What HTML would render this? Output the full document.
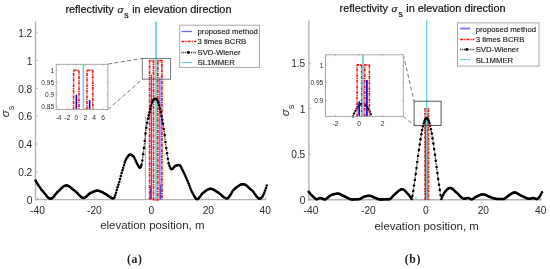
<!DOCTYPE html>
<html><head><meta charset="utf-8"><title>reflectivity</title>
<style>html,body{margin:0;padding:0;background:#fff;width:550px;height:269px;overflow:hidden}svg{display:block}</style>
</head><body>
<svg width="550" height="269" viewBox="0 0 550 269" font-family="&apos;Liberation Sans&apos;, sans-serif">
<rect width="550" height="269" fill="#fff"/>
<line x1="35.5" y1="199.6" x2="37.7" y2="199.6" stroke="#a0a0a0" stroke-width="0.8" />
<line x1="35.5" y1="171.8" x2="37.7" y2="171.8" stroke="#a0a0a0" stroke-width="0.8" />
<line x1="35.5" y1="144" x2="37.7" y2="144" stroke="#a0a0a0" stroke-width="0.8" />
<line x1="35.5" y1="116.2" x2="37.7" y2="116.2" stroke="#a0a0a0" stroke-width="0.8" />
<line x1="35.5" y1="88.4" x2="37.7" y2="88.4" stroke="#a0a0a0" stroke-width="0.8" />
<line x1="35.5" y1="60.6" x2="37.7" y2="60.6" stroke="#a0a0a0" stroke-width="0.8" />
<line x1="35.5" y1="32.8" x2="37.7" y2="32.8" stroke="#a0a0a0" stroke-width="0.8" />
<line x1="37.45" y1="199.6" x2="37.45" y2="197.4" stroke="#a0a0a0" stroke-width="0.8" />
<line x1="94.4" y1="199.6" x2="94.4" y2="197.4" stroke="#a0a0a0" stroke-width="0.8" />
<line x1="151.35" y1="199.6" x2="151.35" y2="197.4" stroke="#a0a0a0" stroke-width="0.8" />
<line x1="208.3" y1="199.6" x2="208.3" y2="197.4" stroke="#a0a0a0" stroke-width="0.8" />
<line x1="265.25" y1="199.6" x2="265.25" y2="197.4" stroke="#a0a0a0" stroke-width="0.8" />
<line x1="35.5" y1="21.5" x2="35.5" y2="200.2" stroke="#b2b2b2" stroke-width="1.4" />
<line x1="34.9" y1="199.6" x2="266.2" y2="199.6" stroke="#b2b2b2" stroke-width="1.4" />
<text x="32.3" y="203.8" font-size="10.2" text-anchor="end" fill="#2b2b2b" >0</text>
<text x="32.3" y="176" font-size="10.2" text-anchor="end" fill="#2b2b2b" >0.2</text>
<text x="32.3" y="148.2" font-size="10.2" text-anchor="end" fill="#2b2b2b" >0.4</text>
<text x="32.3" y="120.4" font-size="10.2" text-anchor="end" fill="#2b2b2b" >0.6</text>
<text x="32.3" y="92.6" font-size="10.2" text-anchor="end" fill="#2b2b2b" >0.8</text>
<text x="32.3" y="64.8" font-size="10.2" text-anchor="end" fill="#2b2b2b" >1</text>
<text x="32.3" y="37" font-size="10.2" text-anchor="end" fill="#2b2b2b" >1.2</text>
<text x="37.45" y="214" font-size="10.2" text-anchor="middle" fill="#2b2b2b" >-40</text>
<text x="94.4" y="214" font-size="10.2" text-anchor="middle" fill="#2b2b2b" >-20</text>
<text x="151.35" y="214" font-size="10.2" text-anchor="middle" fill="#2b2b2b" >0</text>
<text x="208.3" y="214" font-size="10.2" text-anchor="middle" fill="#2b2b2b" >20</text>
<text x="265.25" y="214" font-size="10.2" text-anchor="middle" fill="#2b2b2b" >40</text>
<line x1="155.95" y1="21.5" x2="155.95" y2="199.6" stroke="#66d4d8" stroke-width="1.7" />
<line x1="145.4" y1="116.8" x2="145.4" y2="199.6" stroke="#66d4d8" stroke-width="1.1" />
<line x1="151.35" y1="199.6" x2="151.35" y2="74.5" stroke="#3c3cff" stroke-width="1.1" />
<line x1="159.89" y1="199.6" x2="159.89" y2="77.56" stroke="#3c3cff" stroke-width="1.1" />
<line x1="150.5" y1="199.6" x2="150.5" y2="186.5" stroke="#3c3cff" stroke-width="1.0" />
<line x1="160.7" y1="199.6" x2="160.7" y2="185" stroke="#3c3cff" stroke-width="1.1" />
<polyline points="149.6,199.6 149.6,60.6 153.5,60.6 153.5,200 157.8,200 157.8,60.6 161.9,60.6 161.9,199.6" fill="none" stroke="#ff1010" stroke-width="1.7" stroke-dasharray="3.2 0.7 1.1 0.7" stroke-linejoin="round"/>
<path d="M35.5,180.6 L36.3,181.94 L37.09,183.24 L37.89,184.5 L38.69,185.73 L39.49,186.9 L40.28,188.04 L41.08,189.12 L41.88,190.15 L42.68,191.12 L43.47,192.06 L44.27,193.06 L45.07,194.09 L45.86,195.11 L46.66,196.08 L47.46,196.96 L48.26,197.7 L49.05,198.26 L49.85,198.61 L50.65,198.69 L51.45,198.47 L52.24,197.98 L53.04,197.26 L53.84,196.38 L54.64,195.41 L55.43,194.39 L56.23,193.38 L57.03,192.45 L57.82,191.65 L58.62,190.95 L59.42,190.2 L60.22,189.41 L61.01,188.62 L61.81,187.86 L62.61,187.14 L63.41,186.52 L64.2,186 L65,185.63 L65.8,185.43 L66.59,185.42 L67.39,185.58 L68.19,185.88 L68.99,186.3 L69.78,186.81 L70.58,187.4 L71.38,188.04 L72.18,188.71 L72.97,189.39 L73.77,190.05 L74.57,190.68 L75.36,191.28 L76.16,191.97 L76.96,192.76 L77.76,193.61 L78.55,194.47 L79.35,195.32 L80.15,196.12 L80.95,196.82 L81.74,197.39 L82.54,197.79 L83.34,197.99 L84.14,197.93 L84.93,197.61 L85.73,197.07 L86.53,196.38 L87.32,195.62 L88.12,194.83 L88.92,194.09 L89.72,193.45 L90.51,192.99 L91.31,192.63 L92.11,192.27 L92.91,191.92 L93.7,191.59 L94.5,191.29 L95.3,191.04 L96.09,190.85 L96.89,190.74 L97.69,190.7 L98.49,190.77 L99.28,190.95 L100.08,191.22 L100.88,191.55 L101.68,191.94 L102.47,192.36 L103.27,192.81 L104.07,193.25 L104.87,193.68 L105.66,194.08 L106.46,194.54 L107.26,195.08 L108.05,195.66 L108.85,196.26 L109.65,196.85 L110.45,197.38 L111.24,197.84 L112.04,198.17 L112.84,198.37 L113.64,198.29 L114.43,197.21 L115.23,195.26 L116.03,192.73 L116.82,189.94 L117.62,187.2 L118.42,184.68 L119.22,181.92 L120.01,178.97 L120.81,175.96 L121.61,173.02 L122.41,170.3 L123.2,167.7 L124,165.05 L124.8,162.53 L125.59,160.34 L126.39,158.68 L127.19,157.42 L127.99,156.25 L128.78,155.29 L129.58,154.66 L130.38,154.51 L131.18,154.73 L131.97,155.2 L132.77,155.84 L133.57,156.57 L134.37,157.75 L135.16,159.45 L135.96,161.29 L136.76,162.92 L137.55,164.46 L138.35,166.07 L139.15,167.33 L139.95,167.8 L140.74,166.8 L141.54,164.68 L142.34,160.53 L143.14,154.27 L143.93,147.9 L144.73,140.92 L145.53,133.59 L146.32,127.65 L147.12,122.74 L147.92,118.72 L148.72,115.27 L149.51,112.28 L150.31,109.08 L151.11,105.53 L151.91,102.84 L152.7,100.76 L153.5,99.74 L154.3,99.03 L155.09,98.71 L155.89,98.9 L156.69,99.52 L157.49,100.42 L158.28,102.36 L159.08,105.13 L159.88,108.52 L160.68,112.17 L161.47,115.91 L162.27,119.71 L163.07,123.81 L163.87,129.03 L164.66,135.09 L165.46,141.89 L166.26,147.92 L167.05,153.35 L167.85,158.68 L168.65,163.2 L169.45,165.77 L170.24,167.77 L171.04,169.09 L171.84,169.36 L172.64,168.8 L173.43,167.84 L174.23,166.84 L175.03,166.19 L175.82,165.8 L176.62,165.45 L177.42,165.16 L178.22,164.97 L179.01,164.9 L179.81,165.32 L180.61,166.37 L181.41,167.83 L182.2,169.46 L183,171 L183.8,172.51 L184.6,174.16 L185.39,175.93 L186.19,177.76 L186.99,179.63 L187.78,181.5 L188.58,183.41 L189.38,185.49 L190.18,187.63 L190.97,189.7 L191.77,191.57 L192.57,193.12 L193.37,194.57 L194.16,196.02 L194.96,197.35 L195.76,198.41 L196.55,199.06 L197.35,199.17 L198.15,198.8 L198.95,198.05 L199.74,197.07 L200.54,195.96 L201.34,194.84 L202.14,193.83 L202.93,193.05 L203.73,192.44 L204.53,191.82 L205.32,191.2 L206.12,190.61 L206.92,190.07 L207.72,189.59 L208.51,189.21 L209.31,188.94 L210.11,188.81 L210.91,188.83 L211.7,188.99 L212.5,189.26 L213.3,189.62 L214.1,190.05 L214.89,190.54 L215.69,191.05 L216.49,191.57 L217.28,192.08 L218.08,192.55 L218.88,193.07 L219.68,193.68 L220.47,194.35 L221.27,195.06 L222.07,195.78 L222.87,196.46 L223.66,197.09 L224.46,197.63 L225.26,198.04 L226.05,198.31 L226.85,198.4 L227.65,198.15 L228.45,197.51 L229.24,196.57 L230.04,195.42 L230.84,194.14 L231.64,192.81 L232.43,191.53 L233.23,190.37 L234.03,189.43 L234.82,188.75 L235.62,188.11 L236.42,187.48 L237.22,186.87 L238.01,186.28 L238.81,185.73 L239.61,185.25 L240.41,184.84 L241.2,184.52 L242,184.3 L242.8,184.2 L243.6,184.25 L244.39,184.46 L245.19,184.81 L245.99,185.28 L246.78,185.85 L247.58,186.5 L248.38,187.19 L249.18,187.92 L249.97,188.66 L250.77,189.38 L251.57,190.06 L252.37,190.84 L253.16,191.79 L253.96,192.85 L254.76,193.96 L255.55,195.08 L256.35,196.14 L257.15,197.08 L257.95,197.86 L258.74,198.41 L259.54,198.68 L260.34,198.6 L261.14,198.1 L261.93,197.21 L262.73,195.97 L263.53,194.41 L264.33,192.55 L265.12,190.45 L265.92,188.12 L266.72,185.6" fill="none" stroke="#000" stroke-width="1.2" stroke-dasharray="0.8 0.8"/>
<g fill="#000"><circle cx="35.5" cy="180.6" r="1.25"/><circle cx="36.3" cy="181.94" r="1.25"/><circle cx="37.09" cy="183.24" r="1.25"/><circle cx="37.89" cy="184.5" r="1.25"/><circle cx="38.69" cy="185.73" r="1.25"/><circle cx="39.49" cy="186.9" r="1.25"/><circle cx="40.28" cy="188.04" r="1.25"/><circle cx="41.08" cy="189.12" r="1.25"/><circle cx="41.88" cy="190.15" r="1.25"/><circle cx="42.68" cy="191.12" r="1.25"/><circle cx="43.47" cy="192.06" r="1.25"/><circle cx="44.27" cy="193.06" r="1.25"/><circle cx="45.07" cy="194.09" r="1.25"/><circle cx="45.86" cy="195.11" r="1.25"/><circle cx="46.66" cy="196.08" r="1.25"/><circle cx="47.46" cy="196.96" r="1.25"/><circle cx="48.26" cy="197.7" r="1.25"/><circle cx="49.05" cy="198.26" r="1.25"/><circle cx="49.85" cy="198.61" r="1.25"/><circle cx="50.65" cy="198.69" r="1.25"/><circle cx="51.45" cy="198.47" r="1.25"/><circle cx="52.24" cy="197.98" r="1.25"/><circle cx="53.04" cy="197.26" r="1.25"/><circle cx="53.84" cy="196.38" r="1.25"/><circle cx="54.64" cy="195.41" r="1.25"/><circle cx="55.43" cy="194.39" r="1.25"/><circle cx="56.23" cy="193.38" r="1.25"/><circle cx="57.03" cy="192.45" r="1.25"/><circle cx="57.82" cy="191.65" r="1.25"/><circle cx="58.62" cy="190.95" r="1.25"/><circle cx="59.42" cy="190.2" r="1.25"/><circle cx="60.22" cy="189.41" r="1.25"/><circle cx="61.01" cy="188.62" r="1.25"/><circle cx="61.81" cy="187.86" r="1.25"/><circle cx="62.61" cy="187.14" r="1.25"/><circle cx="63.41" cy="186.52" r="1.25"/><circle cx="64.2" cy="186" r="1.25"/><circle cx="65" cy="185.63" r="1.25"/><circle cx="65.8" cy="185.43" r="1.25"/><circle cx="66.59" cy="185.42" r="1.25"/><circle cx="67.39" cy="185.58" r="1.25"/><circle cx="68.19" cy="185.88" r="1.25"/><circle cx="68.99" cy="186.3" r="1.25"/><circle cx="69.78" cy="186.81" r="1.25"/><circle cx="70.58" cy="187.4" r="1.25"/><circle cx="71.38" cy="188.04" r="1.25"/><circle cx="72.18" cy="188.71" r="1.25"/><circle cx="72.97" cy="189.39" r="1.25"/><circle cx="73.77" cy="190.05" r="1.25"/><circle cx="74.57" cy="190.68" r="1.25"/><circle cx="75.36" cy="191.28" r="1.25"/><circle cx="76.16" cy="191.97" r="1.25"/><circle cx="76.96" cy="192.76" r="1.25"/><circle cx="77.76" cy="193.61" r="1.25"/><circle cx="78.55" cy="194.47" r="1.25"/><circle cx="79.35" cy="195.32" r="1.25"/><circle cx="80.15" cy="196.12" r="1.25"/><circle cx="80.95" cy="196.82" r="1.25"/><circle cx="81.74" cy="197.39" r="1.25"/><circle cx="82.54" cy="197.79" r="1.25"/><circle cx="83.34" cy="197.99" r="1.25"/><circle cx="84.14" cy="197.93" r="1.25"/><circle cx="84.93" cy="197.61" r="1.25"/><circle cx="85.73" cy="197.07" r="1.25"/><circle cx="86.53" cy="196.38" r="1.25"/><circle cx="87.32" cy="195.62" r="1.25"/><circle cx="88.12" cy="194.83" r="1.25"/><circle cx="88.92" cy="194.09" r="1.25"/><circle cx="89.72" cy="193.45" r="1.25"/><circle cx="90.51" cy="192.99" r="1.25"/><circle cx="91.31" cy="192.63" r="1.25"/><circle cx="92.11" cy="192.27" r="1.25"/><circle cx="92.91" cy="191.92" r="1.25"/><circle cx="93.7" cy="191.59" r="1.25"/><circle cx="94.5" cy="191.29" r="1.25"/><circle cx="95.3" cy="191.04" r="1.25"/><circle cx="96.09" cy="190.85" r="1.25"/><circle cx="96.89" cy="190.74" r="1.25"/><circle cx="97.69" cy="190.7" r="1.25"/><circle cx="98.49" cy="190.77" r="1.25"/><circle cx="99.28" cy="190.95" r="1.25"/><circle cx="100.08" cy="191.22" r="1.25"/><circle cx="100.88" cy="191.55" r="1.25"/><circle cx="101.68" cy="191.94" r="1.25"/><circle cx="102.47" cy="192.36" r="1.25"/><circle cx="103.27" cy="192.81" r="1.25"/><circle cx="104.07" cy="193.25" r="1.25"/><circle cx="104.87" cy="193.68" r="1.25"/><circle cx="105.66" cy="194.08" r="1.25"/><circle cx="106.46" cy="194.54" r="1.25"/><circle cx="107.26" cy="195.08" r="1.25"/><circle cx="108.05" cy="195.66" r="1.25"/><circle cx="108.85" cy="196.26" r="1.25"/><circle cx="109.65" cy="196.85" r="1.25"/><circle cx="110.45" cy="197.38" r="1.25"/><circle cx="111.24" cy="197.84" r="1.25"/><circle cx="112.04" cy="198.17" r="1.25"/><circle cx="112.84" cy="198.37" r="1.25"/><circle cx="113.64" cy="198.29" r="1.25"/><circle cx="114.43" cy="197.21" r="1.25"/><circle cx="115.23" cy="195.26" r="1.25"/><circle cx="116.03" cy="192.73" r="1.25"/><circle cx="116.82" cy="189.94" r="1.25"/><circle cx="117.62" cy="187.2" r="1.25"/><circle cx="118.42" cy="184.68" r="1.25"/><circle cx="119.22" cy="181.92" r="1.25"/><circle cx="120.01" cy="178.97" r="1.25"/><circle cx="120.81" cy="175.96" r="1.25"/><circle cx="121.61" cy="173.02" r="1.25"/><circle cx="122.41" cy="170.3" r="1.25"/><circle cx="123.2" cy="167.7" r="1.25"/><circle cx="124" cy="165.05" r="1.25"/><circle cx="124.8" cy="162.53" r="1.25"/><circle cx="125.59" cy="160.34" r="1.25"/><circle cx="126.39" cy="158.68" r="1.25"/><circle cx="127.19" cy="157.42" r="1.25"/><circle cx="127.99" cy="156.25" r="1.25"/><circle cx="128.78" cy="155.29" r="1.25"/><circle cx="129.58" cy="154.66" r="1.25"/><circle cx="130.38" cy="154.51" r="1.25"/><circle cx="131.18" cy="154.73" r="1.25"/><circle cx="131.97" cy="155.2" r="1.25"/><circle cx="132.77" cy="155.84" r="1.25"/><circle cx="133.57" cy="156.57" r="1.25"/><circle cx="134.37" cy="157.75" r="1.25"/><circle cx="135.16" cy="159.45" r="1.25"/><circle cx="135.96" cy="161.29" r="1.25"/><circle cx="136.76" cy="162.92" r="1.25"/><circle cx="137.55" cy="164.46" r="1.25"/><circle cx="138.35" cy="166.07" r="1.25"/><circle cx="139.15" cy="167.33" r="1.25"/><circle cx="139.95" cy="167.8" r="1.25"/><circle cx="140.74" cy="166.8" r="1.25"/><circle cx="141.54" cy="164.68" r="1.25"/><circle cx="142.34" cy="160.53" r="1.25"/><circle cx="143.14" cy="154.27" r="1.25"/><circle cx="143.93" cy="147.9" r="1.25"/><circle cx="144.73" cy="140.92" r="1.25"/><circle cx="145.53" cy="133.59" r="1.25"/><circle cx="146.32" cy="127.65" r="1.25"/><circle cx="147.12" cy="122.74" r="1.25"/><circle cx="147.92" cy="118.72" r="1.25"/><circle cx="148.72" cy="115.27" r="1.25"/><circle cx="149.51" cy="112.28" r="1.25"/><circle cx="150.31" cy="109.08" r="1.25"/><circle cx="151.11" cy="105.53" r="1.25"/><circle cx="151.91" cy="102.84" r="1.25"/><circle cx="152.7" cy="100.76" r="1.25"/><circle cx="153.5" cy="99.74" r="1.25"/><circle cx="154.3" cy="99.03" r="1.25"/><circle cx="155.09" cy="98.71" r="1.25"/><circle cx="155.89" cy="98.9" r="1.25"/><circle cx="156.69" cy="99.52" r="1.25"/><circle cx="157.49" cy="100.42" r="1.25"/><circle cx="158.28" cy="102.36" r="1.25"/><circle cx="159.08" cy="105.13" r="1.25"/><circle cx="159.88" cy="108.52" r="1.25"/><circle cx="160.68" cy="112.17" r="1.25"/><circle cx="161.47" cy="115.91" r="1.25"/><circle cx="162.27" cy="119.71" r="1.25"/><circle cx="163.07" cy="123.81" r="1.25"/><circle cx="163.87" cy="129.03" r="1.25"/><circle cx="164.66" cy="135.09" r="1.25"/><circle cx="165.46" cy="141.89" r="1.25"/><circle cx="166.26" cy="147.92" r="1.25"/><circle cx="167.05" cy="153.35" r="1.25"/><circle cx="167.85" cy="158.68" r="1.25"/><circle cx="168.65" cy="163.2" r="1.25"/><circle cx="169.45" cy="165.77" r="1.25"/><circle cx="170.24" cy="167.77" r="1.25"/><circle cx="171.04" cy="169.09" r="1.25"/><circle cx="171.84" cy="169.36" r="1.25"/><circle cx="172.64" cy="168.8" r="1.25"/><circle cx="173.43" cy="167.84" r="1.25"/><circle cx="174.23" cy="166.84" r="1.25"/><circle cx="175.03" cy="166.19" r="1.25"/><circle cx="175.82" cy="165.8" r="1.25"/><circle cx="176.62" cy="165.45" r="1.25"/><circle cx="177.42" cy="165.16" r="1.25"/><circle cx="178.22" cy="164.97" r="1.25"/><circle cx="179.01" cy="164.9" r="1.25"/><circle cx="179.81" cy="165.32" r="1.25"/><circle cx="180.61" cy="166.37" r="1.25"/><circle cx="181.41" cy="167.83" r="1.25"/><circle cx="182.2" cy="169.46" r="1.25"/><circle cx="183" cy="171" r="1.25"/><circle cx="183.8" cy="172.51" r="1.25"/><circle cx="184.6" cy="174.16" r="1.25"/><circle cx="185.39" cy="175.93" r="1.25"/><circle cx="186.19" cy="177.76" r="1.25"/><circle cx="186.99" cy="179.63" r="1.25"/><circle cx="187.78" cy="181.5" r="1.25"/><circle cx="188.58" cy="183.41" r="1.25"/><circle cx="189.38" cy="185.49" r="1.25"/><circle cx="190.18" cy="187.63" r="1.25"/><circle cx="190.97" cy="189.7" r="1.25"/><circle cx="191.77" cy="191.57" r="1.25"/><circle cx="192.57" cy="193.12" r="1.25"/><circle cx="193.37" cy="194.57" r="1.25"/><circle cx="194.16" cy="196.02" r="1.25"/><circle cx="194.96" cy="197.35" r="1.25"/><circle cx="195.76" cy="198.41" r="1.25"/><circle cx="196.55" cy="199.06" r="1.25"/><circle cx="197.35" cy="199.17" r="1.25"/><circle cx="198.15" cy="198.8" r="1.25"/><circle cx="198.95" cy="198.05" r="1.25"/><circle cx="199.74" cy="197.07" r="1.25"/><circle cx="200.54" cy="195.96" r="1.25"/><circle cx="201.34" cy="194.84" r="1.25"/><circle cx="202.14" cy="193.83" r="1.25"/><circle cx="202.93" cy="193.05" r="1.25"/><circle cx="203.73" cy="192.44" r="1.25"/><circle cx="204.53" cy="191.82" r="1.25"/><circle cx="205.32" cy="191.2" r="1.25"/><circle cx="206.12" cy="190.61" r="1.25"/><circle cx="206.92" cy="190.07" r="1.25"/><circle cx="207.72" cy="189.59" r="1.25"/><circle cx="208.51" cy="189.21" r="1.25"/><circle cx="209.31" cy="188.94" r="1.25"/><circle cx="210.11" cy="188.81" r="1.25"/><circle cx="210.91" cy="188.83" r="1.25"/><circle cx="211.7" cy="188.99" r="1.25"/><circle cx="212.5" cy="189.26" r="1.25"/><circle cx="213.3" cy="189.62" r="1.25"/><circle cx="214.1" cy="190.05" r="1.25"/><circle cx="214.89" cy="190.54" r="1.25"/><circle cx="215.69" cy="191.05" r="1.25"/><circle cx="216.49" cy="191.57" r="1.25"/><circle cx="217.28" cy="192.08" r="1.25"/><circle cx="218.08" cy="192.55" r="1.25"/><circle cx="218.88" cy="193.07" r="1.25"/><circle cx="219.68" cy="193.68" r="1.25"/><circle cx="220.47" cy="194.35" r="1.25"/><circle cx="221.27" cy="195.06" r="1.25"/><circle cx="222.07" cy="195.78" r="1.25"/><circle cx="222.87" cy="196.46" r="1.25"/><circle cx="223.66" cy="197.09" r="1.25"/><circle cx="224.46" cy="197.63" r="1.25"/><circle cx="225.26" cy="198.04" r="1.25"/><circle cx="226.05" cy="198.31" r="1.25"/><circle cx="226.85" cy="198.4" r="1.25"/><circle cx="227.65" cy="198.15" r="1.25"/><circle cx="228.45" cy="197.51" r="1.25"/><circle cx="229.24" cy="196.57" r="1.25"/><circle cx="230.04" cy="195.42" r="1.25"/><circle cx="230.84" cy="194.14" r="1.25"/><circle cx="231.64" cy="192.81" r="1.25"/><circle cx="232.43" cy="191.53" r="1.25"/><circle cx="233.23" cy="190.37" r="1.25"/><circle cx="234.03" cy="189.43" r="1.25"/><circle cx="234.82" cy="188.75" r="1.25"/><circle cx="235.62" cy="188.11" r="1.25"/><circle cx="236.42" cy="187.48" r="1.25"/><circle cx="237.22" cy="186.87" r="1.25"/><circle cx="238.01" cy="186.28" r="1.25"/><circle cx="238.81" cy="185.73" r="1.25"/><circle cx="239.61" cy="185.25" r="1.25"/><circle cx="240.41" cy="184.84" r="1.25"/><circle cx="241.2" cy="184.52" r="1.25"/><circle cx="242" cy="184.3" r="1.25"/><circle cx="242.8" cy="184.2" r="1.25"/><circle cx="243.6" cy="184.25" r="1.25"/><circle cx="244.39" cy="184.46" r="1.25"/><circle cx="245.19" cy="184.81" r="1.25"/><circle cx="245.99" cy="185.28" r="1.25"/><circle cx="246.78" cy="185.85" r="1.25"/><circle cx="247.58" cy="186.5" r="1.25"/><circle cx="248.38" cy="187.19" r="1.25"/><circle cx="249.18" cy="187.92" r="1.25"/><circle cx="249.97" cy="188.66" r="1.25"/><circle cx="250.77" cy="189.38" r="1.25"/><circle cx="251.57" cy="190.06" r="1.25"/><circle cx="252.37" cy="190.84" r="1.25"/><circle cx="253.16" cy="191.79" r="1.25"/><circle cx="253.96" cy="192.85" r="1.25"/><circle cx="254.76" cy="193.96" r="1.25"/><circle cx="255.55" cy="195.08" r="1.25"/><circle cx="256.35" cy="196.14" r="1.25"/><circle cx="257.15" cy="197.08" r="1.25"/><circle cx="257.95" cy="197.86" r="1.25"/><circle cx="258.74" cy="198.41" r="1.25"/><circle cx="259.54" cy="198.68" r="1.25"/><circle cx="260.34" cy="198.6" r="1.25"/><circle cx="261.14" cy="198.1" r="1.25"/><circle cx="261.93" cy="197.21" r="1.25"/><circle cx="262.73" cy="195.97" r="1.25"/><circle cx="263.53" cy="194.41" r="1.25"/><circle cx="264.33" cy="192.55" r="1.25"/><circle cx="265.12" cy="190.45" r="1.25"/><circle cx="265.92" cy="188.12" r="1.25"/><circle cx="266.72" cy="185.6" r="1.25"/></g>
<rect x="142.3" y="58.4" width="28.3" height="20.8" fill="none" stroke="#6a6a6a" stroke-width="0.9"/>
<line x1="107.9" y1="64.1" x2="142.3" y2="58.4" stroke="#666" stroke-width="0.9" stroke-dasharray="4 2.5"/>
<line x1="107.9" y1="109.6" x2="142.3" y2="79.2" stroke="#666" stroke-width="0.9" stroke-dasharray="4 2.5"/>
<rect x="56.2" y="64.3" width="51.7" height="45.3" fill="#fff" stroke="none"/>
<line x1="76.4" y1="109.6" x2="76.4" y2="94.63" stroke="#0000ee" stroke-width="1.6" />
<line x1="89.62" y1="109.6" x2="89.62" y2="100.23" stroke="#0000ee" stroke-width="1.6" />
<polyline points="73.6,109.6 73.6,70.3 79,70.3 79,109.6" fill="none" stroke="#ff1010" stroke-width="1.6" stroke-dasharray="3 0.8 1 0.8" stroke-linejoin="round"/>
<polyline points="87,109.6 87,70.3 92.8,70.3 92.8,109.6" fill="none" stroke="#ff1010" stroke-width="1.6" stroke-dasharray="3 0.8 1 0.8" stroke-linejoin="round"/>
<line x1="83.4" y1="64.3" x2="83.4" y2="109.6" stroke="#66d4d8" stroke-width="1.6" />
<rect x="56.2" y="64.3" width="51.7" height="45.3" fill="none" stroke="#a0a0a0" stroke-width="0.9"/>
<text x="54.2" y="72.6" font-size="6.6" text-anchor="end" fill="#2b2b2b" >1</text>
<line x1="56.2" y1="70.3" x2="57.7" y2="70.3" stroke="#a0a0a0" stroke-width="0.7" />
<line x1="107.9" y1="70.3" x2="106.4" y2="70.3" stroke="#a0a0a0" stroke-width="0.7" />
<text x="54.2" y="84.77" font-size="6.6" text-anchor="end" fill="#2b2b2b" >0.95</text>
<line x1="56.2" y1="82.47" x2="57.7" y2="82.47" stroke="#a0a0a0" stroke-width="0.7" />
<line x1="107.9" y1="82.47" x2="106.4" y2="82.47" stroke="#a0a0a0" stroke-width="0.7" />
<text x="54.2" y="96.93" font-size="6.6" text-anchor="end" fill="#2b2b2b" >0.9</text>
<line x1="56.2" y1="94.63" x2="57.7" y2="94.63" stroke="#a0a0a0" stroke-width="0.7" />
<line x1="107.9" y1="94.63" x2="106.4" y2="94.63" stroke="#a0a0a0" stroke-width="0.7" />
<text x="54.2" y="109.09" font-size="6.6" text-anchor="end" fill="#2b2b2b" >0.85</text>
<line x1="56.2" y1="106.8" x2="57.7" y2="106.8" stroke="#a0a0a0" stroke-width="0.7" />
<line x1="107.9" y1="106.8" x2="106.4" y2="106.8" stroke="#a0a0a0" stroke-width="0.7" />
<text x="58.6" y="119.8" font-size="6.6" text-anchor="middle" fill="#2b2b2b" >-4</text>
<line x1="58.6" y1="109.6" x2="58.6" y2="108.1" stroke="#a0a0a0" stroke-width="0.7" />
<line x1="58.6" y1="64.3" x2="58.6" y2="65.8" stroke="#a0a0a0" stroke-width="0.7" />
<text x="67.5" y="119.8" font-size="6.6" text-anchor="middle" fill="#2b2b2b" >-2</text>
<line x1="67.5" y1="109.6" x2="67.5" y2="108.1" stroke="#a0a0a0" stroke-width="0.7" />
<line x1="67.5" y1="64.3" x2="67.5" y2="65.8" stroke="#a0a0a0" stroke-width="0.7" />
<text x="76.4" y="119.8" font-size="6.6" text-anchor="middle" fill="#2b2b2b" >0</text>
<line x1="76.4" y1="109.6" x2="76.4" y2="108.1" stroke="#a0a0a0" stroke-width="0.7" />
<line x1="76.4" y1="64.3" x2="76.4" y2="65.8" stroke="#a0a0a0" stroke-width="0.7" />
<text x="85.3" y="119.8" font-size="6.6" text-anchor="middle" fill="#2b2b2b" >2</text>
<line x1="85.3" y1="109.6" x2="85.3" y2="108.1" stroke="#a0a0a0" stroke-width="0.7" />
<line x1="85.3" y1="64.3" x2="85.3" y2="65.8" stroke="#a0a0a0" stroke-width="0.7" />
<text x="94.2" y="119.8" font-size="6.6" text-anchor="middle" fill="#2b2b2b" >4</text>
<line x1="94.2" y1="109.6" x2="94.2" y2="108.1" stroke="#a0a0a0" stroke-width="0.7" />
<line x1="94.2" y1="64.3" x2="94.2" y2="65.8" stroke="#a0a0a0" stroke-width="0.7" />
<text x="103.1" y="119.8" font-size="6.6" text-anchor="middle" fill="#2b2b2b" >6</text>
<line x1="103.1" y1="109.6" x2="103.1" y2="108.1" stroke="#a0a0a0" stroke-width="0.7" />
<line x1="103.1" y1="64.3" x2="103.1" y2="65.8" stroke="#a0a0a0" stroke-width="0.7" />
<rect x="179.7" y="25.2" width="79.9" height="42.2" fill="#fff" stroke="#a0a0a0" stroke-width="0.9"/>
<line x1="181.4" y1="31.5" x2="192.2" y2="31.5" stroke="#6b6bff" stroke-width="1.3" />
<line x1="181.4" y1="41.5" x2="196.2" y2="41.5" stroke="#ff1010" stroke-width="1.6" stroke-dasharray="3 1 1.2 1"/>
<line x1="181.4" y1="52.5" x2="196.2" y2="52.5" stroke="#262626" stroke-width="1.3" stroke-dasharray="1 0.9"/>
<circle cx="188.3" cy="52.5" r="1.4" fill="#000"/>
<line x1="181.4" y1="62.5" x2="192.2" y2="62.5" stroke="#66d4d8" stroke-width="1.2" />
<text x="197.5" y="33.8" font-size="7.75" text-anchor="start" fill="#141414" stroke="#141414" stroke-width="0.12">proposed method</text>
<text x="197.5" y="44.3" font-size="7.75" text-anchor="start" fill="#141414" stroke="#141414" stroke-width="0.12">3 times BCRB</text>
<text x="197.5" y="54.6" font-size="7.75" text-anchor="start" fill="#141414" stroke="#141414" stroke-width="0.12">SVD-Wiener</text>
<text x="197.5" y="64.8" font-size="7.75" text-anchor="start" fill="#141414" stroke="#141414" stroke-width="0.12">SL1MMER</text>
<text x="65.4" y="12.8" font-size="10.9" text-anchor="start" fill="#161616" stroke="#161616" stroke-width="0.22">reflectivity</text>
<text x="117.4" y="12.8" font-size="9.8" text-anchor="start" fill="#161616" font-style="italic" stroke="#161616" stroke-width="0.22">σ</text>
<text x="124.3" y="17.5" font-size="8.7" text-anchor="start" fill="#161616" stroke="#161616" stroke-width="0.22">s</text>
<text x="132.2" y="12.8" font-size="10.9" text-anchor="start" fill="#161616" stroke="#161616" stroke-width="0.22">in elevation direction</text>
<text x="100.2" y="229.3" font-size="11.45" text-anchor="start" fill="#2b2b2b" >elevation position, m</text>
<g transform="translate(9.0,117.4) rotate(-90)" fill="#2b2b2b"><text x="0.2" y="0" font-size="11.6" font-style="italic">σ</text><text x="7.4" y="5.2" font-size="8.4">s</text></g>
<text x="126.9" y="262.9" font-size="11.8" font-weight="bold" font-family="&apos;Liberation Serif&apos;, serif" fill="#222" letter-spacing="0.6">(a)</text>
<line x1="308.9" y1="199.8" x2="311.1" y2="199.8" stroke="#a0a0a0" stroke-width="0.8" />
<line x1="308.9" y1="154.2" x2="311.1" y2="154.2" stroke="#a0a0a0" stroke-width="0.8" />
<line x1="308.9" y1="108.6" x2="311.1" y2="108.6" stroke="#a0a0a0" stroke-width="0.8" />
<line x1="308.9" y1="63" x2="311.1" y2="63" stroke="#a0a0a0" stroke-width="0.8" />
<line x1="310.95" y1="199.8" x2="310.95" y2="197.6" stroke="#a0a0a0" stroke-width="0.8" />
<line x1="368.4" y1="199.8" x2="368.4" y2="197.6" stroke="#a0a0a0" stroke-width="0.8" />
<line x1="425.85" y1="199.8" x2="425.85" y2="197.6" stroke="#a0a0a0" stroke-width="0.8" />
<line x1="483.3" y1="199.8" x2="483.3" y2="197.6" stroke="#a0a0a0" stroke-width="0.8" />
<line x1="540.75" y1="199.8" x2="540.75" y2="197.6" stroke="#a0a0a0" stroke-width="0.8" />
<line x1="308.9" y1="20.4" x2="308.9" y2="200.4" stroke="#b2b2b2" stroke-width="1.4" />
<line x1="308.3" y1="199.8" x2="541.8" y2="199.8" stroke="#b2b2b2" stroke-width="1.4" />
<text x="305.3" y="204" font-size="10.2" text-anchor="end" fill="#2b2b2b" >0</text>
<text x="305.3" y="158.4" font-size="10.2" text-anchor="end" fill="#2b2b2b" >0.5</text>
<text x="305.3" y="112.8" font-size="10.2" text-anchor="end" fill="#2b2b2b" >1</text>
<text x="305.3" y="67.2" font-size="10.2" text-anchor="end" fill="#2b2b2b" >1.5</text>
<text x="310.95" y="214" font-size="10.2" text-anchor="middle" fill="#2b2b2b" >-40</text>
<text x="368.4" y="214" font-size="10.2" text-anchor="middle" fill="#2b2b2b" >-20</text>
<text x="425.85" y="214" font-size="10.2" text-anchor="middle" fill="#2b2b2b" >0</text>
<text x="483.3" y="214" font-size="10.2" text-anchor="middle" fill="#2b2b2b" >20</text>
<text x="540.75" y="214" font-size="10.2" text-anchor="middle" fill="#2b2b2b" >40</text>
<line x1="415.9" y1="197" x2="415.9" y2="199.8" stroke="#66d4d8" stroke-width="1.2" />
<line x1="425.6" y1="199.8" x2="425.6" y2="118.63" stroke="#3c3cff" stroke-width="1.0" />
<line x1="427.1" y1="199.8" x2="427.1" y2="112.7" stroke="#3c3cff" stroke-width="1.0" />
<polyline points="424.9,199.8 424.9,108.6 426.5,108.6 426.5,199.8" fill="none" stroke="#ff1010" stroke-width="1.5" stroke-dasharray="2.4 0.7 0.9 0.7" stroke-linejoin="round"/>
<polyline points="427,199.8 427,108.6 428.6,108.6 428.6,199.8" fill="none" stroke="#ff1010" stroke-width="1.5" stroke-dasharray="2.4 0.7 0.9 0.7" stroke-linejoin="round"/>
<line x1="426.7" y1="20.4" x2="426.7" y2="199.8" stroke="#66d4d8" stroke-width="1.4" />
<path d="M308.7,191.8 L309.5,192.83 L310.31,193.79 L311.11,194.69 L311.92,195.52 L312.72,196.26 L313.53,196.96 L314.33,197.69 L315.13,198.37 L315.94,198.9 L316.74,199.18 L317.55,199.1 L318.35,198.72 L319.16,198.26 L319.96,197.94 L320.76,197.95 L321.57,198.21 L322.37,198.61 L323.18,199.02 L323.98,199.32 L324.79,199.39 L325.59,199.17 L326.39,198.72 L327.2,198.11 L328,197.4 L328.81,196.67 L329.61,196.01 L330.42,195.47 L331.22,195.12 L332.02,194.84 L332.83,194.57 L333.63,194.31 L334.44,194.08 L335.24,193.89 L336.05,193.74 L336.85,193.64 L337.65,193.6 L338.46,193.67 L339.26,193.86 L340.07,194.16 L340.87,194.54 L341.68,194.96 L342.48,195.4 L343.28,195.83 L344.09,196.22 L344.89,196.57 L345.7,196.95 L346.5,197.38 L347.31,197.81 L348.11,198.23 L348.92,198.62 L349.72,198.96 L350.52,199.21 L351.33,199.37 L352.13,199.4 L352.94,199.39 L353.74,199.38 L354.55,199.36 L355.35,199.34 L356.15,199.3 L356.96,199.27 L357.76,199.22 L358.57,199.17 L359.37,199.11 L360.18,198.96 L360.98,198.6 L361.78,198.11 L362.59,197.58 L363.39,197.08 L364.2,196.7 L365,196.47 L365.81,196.25 L366.61,196.06 L367.41,195.9 L368.22,195.77 L369.02,195.71 L369.83,195.72 L370.63,195.89 L371.44,196.17 L372.24,196.54 L373.04,196.93 L373.85,197.33 L374.65,197.67 L375.46,197.96 L376.26,198.27 L377.07,198.6 L377.87,198.9 L378.67,199.16 L379.48,199.33 L380.28,199.4 L381.09,199.4 L381.89,199.39 L382.7,199.39 L383.5,199.37 L384.3,199.36 L385.11,199.34 L385.91,199.32 L386.72,199.29 L387.52,199.26 L388.33,199.23 L389.13,199.19 L389.93,198.93 L390.74,198.41 L391.54,197.67 L392.35,196.81 L393.15,195.89 L393.96,194.97 L394.76,194.14 L395.56,193.45 L396.37,192.81 L397.17,192.11 L397.98,191.41 L398.78,190.75 L399.59,190.15 L400.39,189.67 L401.19,189.34 L402,189.2 L402.8,189.32 L403.61,189.71 L404.41,190.32 L405.22,191.07 L406.02,191.92 L406.82,192.79 L407.63,193.63 L408.43,194.53 L409.24,195.54 L410.04,196.65 L410.85,197.84 L411.65,199.1 L412.45,196.03 L413.26,191.02 L414.06,185.62 L414.87,179.93 L415.67,174.03 L416.48,167.99 L417.28,161.92 L418.08,155.9 L418.89,150.04 L419.69,144.43 L420.5,139.16 L421.3,134.33 L422.11,130 L422.91,126.27 L423.71,123.18 L424.52,120.8 L425.32,119.17 L426.13,118.31 L426.93,118.24 L427.74,118.97 L428.54,120.47 L429.35,122.72 L430.15,125.68 L430.95,129.31 L431.76,133.53 L432.56,138.29 L433.37,143.48 L434.17,149.04 L434.98,154.87 L435.78,160.86 L436.58,166.93 L437.39,172.98 L438.19,178.92 L439,184.65 L439.8,190.1 L440.61,195.19 L441.41,198.97 L442.21,196.98 L443.02,195.15 L443.82,193.55 L444.63,192.27 L445.43,191.31 L446.24,190.42 L447.04,189.59 L447.84,188.88 L448.65,188.33 L449.45,187.99 L450.26,187.91 L451.06,188.09 L451.87,188.49 L452.67,189.06 L453.47,189.75 L454.28,190.5 L455.08,191.27 L455.89,192 L456.69,192.65 L457.5,193.36 L458.3,194.16 L459.1,195.02 L459.91,195.88 L460.71,196.7 L461.52,197.45 L462.32,198.07 L463.13,198.53 L463.93,198.77 L464.73,198.77 L465.54,198.56 L466.34,198.28 L467.15,198.02 L467.95,197.9 L468.76,198.06 L469.56,198.44 L470.36,198.88 L471.17,199.17 L471.97,199.15 L472.78,198.9 L473.58,198.47 L474.39,197.93 L475.19,197.37 L475.99,196.83 L476.8,196.39 L477.6,196.05 L478.41,195.69 L479.21,195.34 L480.02,195.01 L480.82,194.73 L481.62,194.53 L482.43,194.41 L483.23,194.42 L484.04,194.56 L484.84,194.8 L485.65,195.12 L486.45,195.49 L487.25,195.87 L488.06,196.25 L488.86,196.58 L489.67,196.85 L490.47,197.11 L491.28,197.38 L492.08,197.66 L492.88,197.93 L493.69,198.19 L494.49,198.43 L495.3,198.64 L496.1,198.81 L496.91,198.93 L497.71,198.99 L498.51,199 L499.32,199 L500.12,199 L500.93,199 L501.73,199 L502.54,199 L503.34,199 L504.14,198.88 L504.95,198.46 L505.75,197.83 L506.56,197.13 L507.36,196.45 L508.17,195.9 L508.97,195.37 L509.78,194.8 L510.58,194.22 L511.38,193.68 L512.19,193.2 L512.99,192.82 L513.8,192.57 L514.6,192.5 L515.41,192.61 L516.21,192.86 L517.01,193.23 L517.82,193.68 L518.62,194.17 L519.43,194.68 L520.23,195.16 L521.04,195.59 L521.84,195.94 L522.64,196.31 L523.45,196.7 L524.25,197.09 L525.06,197.48 L525.86,197.84 L526.67,198.16 L527.47,198.44 L528.27,198.64 L529.08,198.77 L529.88,198.79 L530.69,198.63 L531.49,198.35 L532.3,198.09 L533.1,198 L533.9,198.17 L534.71,198.48 L535.51,198.81 L536.32,198.99 L537.12,198.9 L537.93,198.47 L538.73,197.74 L539.53,196.74 L540.34,195.48 L541.14,193.99 L541.95,192.3" fill="none" stroke="#000" stroke-width="1.2" stroke-dasharray="0.8 0.8"/>
<g fill="#000"><circle cx="308.7" cy="191.8" r="1.25"/><circle cx="309.5" cy="192.83" r="1.25"/><circle cx="310.31" cy="193.79" r="1.25"/><circle cx="311.11" cy="194.69" r="1.25"/><circle cx="311.92" cy="195.52" r="1.25"/><circle cx="312.72" cy="196.26" r="1.25"/><circle cx="313.53" cy="196.96" r="1.25"/><circle cx="314.33" cy="197.69" r="1.25"/><circle cx="315.13" cy="198.37" r="1.25"/><circle cx="315.94" cy="198.9" r="1.25"/><circle cx="316.74" cy="199.18" r="1.25"/><circle cx="317.55" cy="199.1" r="1.25"/><circle cx="318.35" cy="198.72" r="1.25"/><circle cx="319.16" cy="198.26" r="1.25"/><circle cx="319.96" cy="197.94" r="1.25"/><circle cx="320.76" cy="197.95" r="1.25"/><circle cx="321.57" cy="198.21" r="1.25"/><circle cx="322.37" cy="198.61" r="1.25"/><circle cx="323.18" cy="199.02" r="1.25"/><circle cx="323.98" cy="199.32" r="1.25"/><circle cx="324.79" cy="199.39" r="1.25"/><circle cx="325.59" cy="199.17" r="1.25"/><circle cx="326.39" cy="198.72" r="1.25"/><circle cx="327.2" cy="198.11" r="1.25"/><circle cx="328" cy="197.4" r="1.25"/><circle cx="328.81" cy="196.67" r="1.25"/><circle cx="329.61" cy="196.01" r="1.25"/><circle cx="330.42" cy="195.47" r="1.25"/><circle cx="331.22" cy="195.12" r="1.25"/><circle cx="332.02" cy="194.84" r="1.25"/><circle cx="332.83" cy="194.57" r="1.25"/><circle cx="333.63" cy="194.31" r="1.25"/><circle cx="334.44" cy="194.08" r="1.25"/><circle cx="335.24" cy="193.89" r="1.25"/><circle cx="336.05" cy="193.74" r="1.25"/><circle cx="336.85" cy="193.64" r="1.25"/><circle cx="337.65" cy="193.6" r="1.25"/><circle cx="338.46" cy="193.67" r="1.25"/><circle cx="339.26" cy="193.86" r="1.25"/><circle cx="340.07" cy="194.16" r="1.25"/><circle cx="340.87" cy="194.54" r="1.25"/><circle cx="341.68" cy="194.96" r="1.25"/><circle cx="342.48" cy="195.4" r="1.25"/><circle cx="343.28" cy="195.83" r="1.25"/><circle cx="344.09" cy="196.22" r="1.25"/><circle cx="344.89" cy="196.57" r="1.25"/><circle cx="345.7" cy="196.95" r="1.25"/><circle cx="346.5" cy="197.38" r="1.25"/><circle cx="347.31" cy="197.81" r="1.25"/><circle cx="348.11" cy="198.23" r="1.25"/><circle cx="348.92" cy="198.62" r="1.25"/><circle cx="349.72" cy="198.96" r="1.25"/><circle cx="350.52" cy="199.21" r="1.25"/><circle cx="351.33" cy="199.37" r="1.25"/><circle cx="352.13" cy="199.4" r="1.25"/><circle cx="352.94" cy="199.39" r="1.25"/><circle cx="353.74" cy="199.38" r="1.25"/><circle cx="354.55" cy="199.36" r="1.25"/><circle cx="355.35" cy="199.34" r="1.25"/><circle cx="356.15" cy="199.3" r="1.25"/><circle cx="356.96" cy="199.27" r="1.25"/><circle cx="357.76" cy="199.22" r="1.25"/><circle cx="358.57" cy="199.17" r="1.25"/><circle cx="359.37" cy="199.11" r="1.25"/><circle cx="360.18" cy="198.96" r="1.25"/><circle cx="360.98" cy="198.6" r="1.25"/><circle cx="361.78" cy="198.11" r="1.25"/><circle cx="362.59" cy="197.58" r="1.25"/><circle cx="363.39" cy="197.08" r="1.25"/><circle cx="364.2" cy="196.7" r="1.25"/><circle cx="365" cy="196.47" r="1.25"/><circle cx="365.81" cy="196.25" r="1.25"/><circle cx="366.61" cy="196.06" r="1.25"/><circle cx="367.41" cy="195.9" r="1.25"/><circle cx="368.22" cy="195.77" r="1.25"/><circle cx="369.02" cy="195.71" r="1.25"/><circle cx="369.83" cy="195.72" r="1.25"/><circle cx="370.63" cy="195.89" r="1.25"/><circle cx="371.44" cy="196.17" r="1.25"/><circle cx="372.24" cy="196.54" r="1.25"/><circle cx="373.04" cy="196.93" r="1.25"/><circle cx="373.85" cy="197.33" r="1.25"/><circle cx="374.65" cy="197.67" r="1.25"/><circle cx="375.46" cy="197.96" r="1.25"/><circle cx="376.26" cy="198.27" r="1.25"/><circle cx="377.07" cy="198.6" r="1.25"/><circle cx="377.87" cy="198.9" r="1.25"/><circle cx="378.67" cy="199.16" r="1.25"/><circle cx="379.48" cy="199.33" r="1.25"/><circle cx="380.28" cy="199.4" r="1.25"/><circle cx="381.09" cy="199.4" r="1.25"/><circle cx="381.89" cy="199.39" r="1.25"/><circle cx="382.7" cy="199.39" r="1.25"/><circle cx="383.5" cy="199.37" r="1.25"/><circle cx="384.3" cy="199.36" r="1.25"/><circle cx="385.11" cy="199.34" r="1.25"/><circle cx="385.91" cy="199.32" r="1.25"/><circle cx="386.72" cy="199.29" r="1.25"/><circle cx="387.52" cy="199.26" r="1.25"/><circle cx="388.33" cy="199.23" r="1.25"/><circle cx="389.13" cy="199.19" r="1.25"/><circle cx="389.93" cy="198.93" r="1.25"/><circle cx="390.74" cy="198.41" r="1.25"/><circle cx="391.54" cy="197.67" r="1.25"/><circle cx="392.35" cy="196.81" r="1.25"/><circle cx="393.15" cy="195.89" r="1.25"/><circle cx="393.96" cy="194.97" r="1.25"/><circle cx="394.76" cy="194.14" r="1.25"/><circle cx="395.56" cy="193.45" r="1.25"/><circle cx="396.37" cy="192.81" r="1.25"/><circle cx="397.17" cy="192.11" r="1.25"/><circle cx="397.98" cy="191.41" r="1.25"/><circle cx="398.78" cy="190.75" r="1.25"/><circle cx="399.59" cy="190.15" r="1.25"/><circle cx="400.39" cy="189.67" r="1.25"/><circle cx="401.19" cy="189.34" r="1.25"/><circle cx="402" cy="189.2" r="1.25"/><circle cx="402.8" cy="189.32" r="1.25"/><circle cx="403.61" cy="189.71" r="1.25"/><circle cx="404.41" cy="190.32" r="1.25"/><circle cx="405.22" cy="191.07" r="1.25"/><circle cx="406.02" cy="191.92" r="1.25"/><circle cx="406.82" cy="192.79" r="1.25"/><circle cx="407.63" cy="193.63" r="1.25"/><circle cx="408.43" cy="194.53" r="1.25"/><circle cx="409.24" cy="195.54" r="1.25"/><circle cx="410.04" cy="196.65" r="1.25"/><circle cx="410.85" cy="197.84" r="1.25"/><circle cx="411.65" cy="199.1" r="1.25"/><circle cx="412.45" cy="196.03" r="1.25"/><circle cx="413.26" cy="191.02" r="1.25"/><circle cx="414.06" cy="185.62" r="1.25"/><circle cx="414.87" cy="179.93" r="1.25"/><circle cx="415.67" cy="174.03" r="1.25"/><circle cx="416.48" cy="167.99" r="1.25"/><circle cx="417.28" cy="161.92" r="1.25"/><circle cx="418.08" cy="155.9" r="1.25"/><circle cx="418.89" cy="150.04" r="1.25"/><circle cx="419.69" cy="144.43" r="1.25"/><circle cx="420.5" cy="139.16" r="1.25"/><circle cx="421.3" cy="134.33" r="1.25"/><circle cx="422.11" cy="130" r="1.25"/><circle cx="422.91" cy="126.27" r="1.25"/><circle cx="423.71" cy="123.18" r="1.25"/><circle cx="424.52" cy="120.8" r="1.25"/><circle cx="425.32" cy="119.17" r="1.25"/><circle cx="426.13" cy="118.31" r="1.25"/><circle cx="426.93" cy="118.24" r="1.25"/><circle cx="427.74" cy="118.97" r="1.25"/><circle cx="428.54" cy="120.47" r="1.25"/><circle cx="429.35" cy="122.72" r="1.25"/><circle cx="430.15" cy="125.68" r="1.25"/><circle cx="430.95" cy="129.31" r="1.25"/><circle cx="431.76" cy="133.53" r="1.25"/><circle cx="432.56" cy="138.29" r="1.25"/><circle cx="433.37" cy="143.48" r="1.25"/><circle cx="434.17" cy="149.04" r="1.25"/><circle cx="434.98" cy="154.87" r="1.25"/><circle cx="435.78" cy="160.86" r="1.25"/><circle cx="436.58" cy="166.93" r="1.25"/><circle cx="437.39" cy="172.98" r="1.25"/><circle cx="438.19" cy="178.92" r="1.25"/><circle cx="439" cy="184.65" r="1.25"/><circle cx="439.8" cy="190.1" r="1.25"/><circle cx="440.61" cy="195.19" r="1.25"/><circle cx="441.41" cy="198.97" r="1.25"/><circle cx="442.21" cy="196.98" r="1.25"/><circle cx="443.02" cy="195.15" r="1.25"/><circle cx="443.82" cy="193.55" r="1.25"/><circle cx="444.63" cy="192.27" r="1.25"/><circle cx="445.43" cy="191.31" r="1.25"/><circle cx="446.24" cy="190.42" r="1.25"/><circle cx="447.04" cy="189.59" r="1.25"/><circle cx="447.84" cy="188.88" r="1.25"/><circle cx="448.65" cy="188.33" r="1.25"/><circle cx="449.45" cy="187.99" r="1.25"/><circle cx="450.26" cy="187.91" r="1.25"/><circle cx="451.06" cy="188.09" r="1.25"/><circle cx="451.87" cy="188.49" r="1.25"/><circle cx="452.67" cy="189.06" r="1.25"/><circle cx="453.47" cy="189.75" r="1.25"/><circle cx="454.28" cy="190.5" r="1.25"/><circle cx="455.08" cy="191.27" r="1.25"/><circle cx="455.89" cy="192" r="1.25"/><circle cx="456.69" cy="192.65" r="1.25"/><circle cx="457.5" cy="193.36" r="1.25"/><circle cx="458.3" cy="194.16" r="1.25"/><circle cx="459.1" cy="195.02" r="1.25"/><circle cx="459.91" cy="195.88" r="1.25"/><circle cx="460.71" cy="196.7" r="1.25"/><circle cx="461.52" cy="197.45" r="1.25"/><circle cx="462.32" cy="198.07" r="1.25"/><circle cx="463.13" cy="198.53" r="1.25"/><circle cx="463.93" cy="198.77" r="1.25"/><circle cx="464.73" cy="198.77" r="1.25"/><circle cx="465.54" cy="198.56" r="1.25"/><circle cx="466.34" cy="198.28" r="1.25"/><circle cx="467.15" cy="198.02" r="1.25"/><circle cx="467.95" cy="197.9" r="1.25"/><circle cx="468.76" cy="198.06" r="1.25"/><circle cx="469.56" cy="198.44" r="1.25"/><circle cx="470.36" cy="198.88" r="1.25"/><circle cx="471.17" cy="199.17" r="1.25"/><circle cx="471.97" cy="199.15" r="1.25"/><circle cx="472.78" cy="198.9" r="1.25"/><circle cx="473.58" cy="198.47" r="1.25"/><circle cx="474.39" cy="197.93" r="1.25"/><circle cx="475.19" cy="197.37" r="1.25"/><circle cx="475.99" cy="196.83" r="1.25"/><circle cx="476.8" cy="196.39" r="1.25"/><circle cx="477.6" cy="196.05" r="1.25"/><circle cx="478.41" cy="195.69" r="1.25"/><circle cx="479.21" cy="195.34" r="1.25"/><circle cx="480.02" cy="195.01" r="1.25"/><circle cx="480.82" cy="194.73" r="1.25"/><circle cx="481.62" cy="194.53" r="1.25"/><circle cx="482.43" cy="194.41" r="1.25"/><circle cx="483.23" cy="194.42" r="1.25"/><circle cx="484.04" cy="194.56" r="1.25"/><circle cx="484.84" cy="194.8" r="1.25"/><circle cx="485.65" cy="195.12" r="1.25"/><circle cx="486.45" cy="195.49" r="1.25"/><circle cx="487.25" cy="195.87" r="1.25"/><circle cx="488.06" cy="196.25" r="1.25"/><circle cx="488.86" cy="196.58" r="1.25"/><circle cx="489.67" cy="196.85" r="1.25"/><circle cx="490.47" cy="197.11" r="1.25"/><circle cx="491.28" cy="197.38" r="1.25"/><circle cx="492.08" cy="197.66" r="1.25"/><circle cx="492.88" cy="197.93" r="1.25"/><circle cx="493.69" cy="198.19" r="1.25"/><circle cx="494.49" cy="198.43" r="1.25"/><circle cx="495.3" cy="198.64" r="1.25"/><circle cx="496.1" cy="198.81" r="1.25"/><circle cx="496.91" cy="198.93" r="1.25"/><circle cx="497.71" cy="198.99" r="1.25"/><circle cx="498.51" cy="199" r="1.25"/><circle cx="499.32" cy="199" r="1.25"/><circle cx="500.12" cy="199" r="1.25"/><circle cx="500.93" cy="199" r="1.25"/><circle cx="501.73" cy="199" r="1.25"/><circle cx="502.54" cy="199" r="1.25"/><circle cx="503.34" cy="199" r="1.25"/><circle cx="504.14" cy="198.88" r="1.25"/><circle cx="504.95" cy="198.46" r="1.25"/><circle cx="505.75" cy="197.83" r="1.25"/><circle cx="506.56" cy="197.13" r="1.25"/><circle cx="507.36" cy="196.45" r="1.25"/><circle cx="508.17" cy="195.9" r="1.25"/><circle cx="508.97" cy="195.37" r="1.25"/><circle cx="509.78" cy="194.8" r="1.25"/><circle cx="510.58" cy="194.22" r="1.25"/><circle cx="511.38" cy="193.68" r="1.25"/><circle cx="512.19" cy="193.2" r="1.25"/><circle cx="512.99" cy="192.82" r="1.25"/><circle cx="513.8" cy="192.57" r="1.25"/><circle cx="514.6" cy="192.5" r="1.25"/><circle cx="515.41" cy="192.61" r="1.25"/><circle cx="516.21" cy="192.86" r="1.25"/><circle cx="517.01" cy="193.23" r="1.25"/><circle cx="517.82" cy="193.68" r="1.25"/><circle cx="518.62" cy="194.17" r="1.25"/><circle cx="519.43" cy="194.68" r="1.25"/><circle cx="520.23" cy="195.16" r="1.25"/><circle cx="521.04" cy="195.59" r="1.25"/><circle cx="521.84" cy="195.94" r="1.25"/><circle cx="522.64" cy="196.31" r="1.25"/><circle cx="523.45" cy="196.7" r="1.25"/><circle cx="524.25" cy="197.09" r="1.25"/><circle cx="525.06" cy="197.48" r="1.25"/><circle cx="525.86" cy="197.84" r="1.25"/><circle cx="526.67" cy="198.16" r="1.25"/><circle cx="527.47" cy="198.44" r="1.25"/><circle cx="528.27" cy="198.64" r="1.25"/><circle cx="529.08" cy="198.77" r="1.25"/><circle cx="529.88" cy="198.79" r="1.25"/><circle cx="530.69" cy="198.63" r="1.25"/><circle cx="531.49" cy="198.35" r="1.25"/><circle cx="532.3" cy="198.09" r="1.25"/><circle cx="533.1" cy="198" r="1.25"/><circle cx="533.9" cy="198.17" r="1.25"/><circle cx="534.71" cy="198.48" r="1.25"/><circle cx="535.51" cy="198.81" r="1.25"/><circle cx="536.32" cy="198.99" r="1.25"/><circle cx="537.12" cy="198.9" r="1.25"/><circle cx="537.93" cy="198.47" r="1.25"/><circle cx="538.73" cy="197.74" r="1.25"/><circle cx="539.53" cy="196.74" r="1.25"/><circle cx="540.34" cy="195.48" r="1.25"/><circle cx="541.14" cy="193.99" r="1.25"/><circle cx="541.95" cy="192.3" r="1.25"/></g>
<rect x="414.1" y="101.2" width="27" height="24.2" fill="none" stroke="#444" stroke-width="0.9"/>
<line x1="403.3" y1="54.8" x2="414.1" y2="101.2" stroke="#666" stroke-width="0.9" stroke-dasharray="4 2.5"/>
<line x1="403.3" y1="116.4" x2="414.1" y2="125.4" stroke="#666" stroke-width="0.9" stroke-dasharray="4 2.5"/>
<rect x="325.5" y="54.8" width="77.8" height="61.6" fill="#fff" stroke="none"/>
<path d="M353,116.39 L354.2,113.41 L355.4,110.81 L356.6,108.62 L357.8,106.83 L359,105.45 L360.2,104.48 L361.4,103.93 L362.6,103.79 L363.8,104.07 L365,104.76 L366.2,105.87 L367.4,107.38 L368.6,109.31 L369.8,111.63 L371,114.36" fill="none" stroke="#000" stroke-width="0.9" stroke-dasharray="0.8 0.8"/>
<g fill="#000"><circle cx="353" cy="116.39" r="1.15"/><circle cx="354.2" cy="113.41" r="1.15"/><circle cx="355.4" cy="110.81" r="1.15"/><circle cx="356.6" cy="108.62" r="1.15"/><circle cx="357.8" cy="106.83" r="1.15"/><circle cx="359" cy="105.45" r="1.15"/><circle cx="360.2" cy="104.48" r="1.15"/><circle cx="361.4" cy="103.93" r="1.15"/><circle cx="362.6" cy="103.79" r="1.15"/><circle cx="363.8" cy="104.07" r="1.15"/><circle cx="365" cy="104.76" r="1.15"/><circle cx="366.2" cy="105.87" r="1.15"/><circle cx="367.4" cy="107.38" r="1.15"/><circle cx="368.6" cy="109.31" r="1.15"/><circle cx="369.8" cy="111.63" r="1.15"/><circle cx="371" cy="114.36" r="1.15"/></g>
<line x1="359.2" y1="116.4" x2="359.2" y2="101.3" stroke="#0000ee" stroke-width="1.7" />
<line x1="366.9" y1="116.4" x2="366.9" y2="79.9" stroke="#0000ee" stroke-width="1.7" />
<polyline points="357.1,116.4 357.1,64.9 361.7,64.9 361.7,116.4" fill="none" stroke="#ff1010" stroke-width="1.6" stroke-dasharray="3 0.8 1 0.8" stroke-linejoin="round"/>
<polyline points="364.8,116.4 364.8,64.9 369.4,64.9 369.4,116.4" fill="none" stroke="#ff1010" stroke-width="1.6" stroke-dasharray="3 0.8 1 0.8" stroke-linejoin="round"/>
<line x1="363.1" y1="54.8" x2="363.1" y2="116.4" stroke="#66d4d8" stroke-width="1.8" />
<rect x="325.5" y="54.8" width="77.8" height="61.6" fill="none" stroke="#a0a0a0" stroke-width="0.9"/>
<text x="323.3" y="67.5" font-size="6.6" text-anchor="end" fill="#2b2b2b" >1</text>
<line x1="325.5" y1="65.2" x2="327" y2="65.2" stroke="#a0a0a0" stroke-width="0.7" />
<line x1="403.3" y1="65.2" x2="401.8" y2="65.2" stroke="#a0a0a0" stroke-width="0.7" />
<text x="323.3" y="85.2" font-size="6.6" text-anchor="end" fill="#2b2b2b" >0.95</text>
<line x1="325.5" y1="82.9" x2="327" y2="82.9" stroke="#a0a0a0" stroke-width="0.7" />
<line x1="403.3" y1="82.9" x2="401.8" y2="82.9" stroke="#a0a0a0" stroke-width="0.7" />
<text x="323.3" y="102.9" font-size="6.6" text-anchor="end" fill="#2b2b2b" >0.9</text>
<line x1="325.5" y1="100.6" x2="327" y2="100.6" stroke="#a0a0a0" stroke-width="0.7" />
<line x1="403.3" y1="100.6" x2="401.8" y2="100.6" stroke="#a0a0a0" stroke-width="0.7" />
<text x="335.5" y="126" font-size="6.6" text-anchor="middle" fill="#2b2b2b" >-2</text>
<line x1="335.5" y1="116.4" x2="335.5" y2="114.9" stroke="#a0a0a0" stroke-width="0.7" />
<line x1="335.5" y1="54.8" x2="335.5" y2="56.3" stroke="#a0a0a0" stroke-width="0.7" />
<text x="359.1" y="126" font-size="6.6" text-anchor="middle" fill="#2b2b2b" >0</text>
<line x1="359.1" y1="116.4" x2="359.1" y2="114.9" stroke="#a0a0a0" stroke-width="0.7" />
<line x1="359.1" y1="54.8" x2="359.1" y2="56.3" stroke="#a0a0a0" stroke-width="0.7" />
<text x="382.7" y="126" font-size="6.6" text-anchor="middle" fill="#2b2b2b" >2</text>
<line x1="382.7" y1="116.4" x2="382.7" y2="114.9" stroke="#a0a0a0" stroke-width="0.7" />
<line x1="382.7" y1="54.8" x2="382.7" y2="56.3" stroke="#a0a0a0" stroke-width="0.7" />
<rect x="457.5" y="22.9" width="81.5" height="43.2" fill="#fff" stroke="#a0a0a0" stroke-width="0.9"/>
<line x1="460.2" y1="28.5" x2="470.3" y2="28.5" stroke="#7878ff" stroke-width="1.9" />
<line x1="460.2" y1="39.5" x2="474.3" y2="39.5" stroke="#ff1010" stroke-width="1.6" stroke-dasharray="3 1 1.2 1"/>
<line x1="460.2" y1="49.5" x2="474.3" y2="49.5" stroke="#262626" stroke-width="1.3" stroke-dasharray="1 0.9"/>
<circle cx="466.75" cy="49.5" r="1.4" fill="#000"/>
<line x1="460.2" y1="59.5" x2="470.3" y2="59.5" stroke="#66d4d8" stroke-width="1.2" />
<text x="475.7" y="31.6" font-size="7.75" text-anchor="start" fill="#141414" stroke="#141414" stroke-width="0.12">proposed method</text>
<text x="475.7" y="42.2" font-size="7.75" text-anchor="start" fill="#141414" stroke="#141414" stroke-width="0.12">3 times BCRB</text>
<text x="475.7" y="52.4" font-size="7.75" text-anchor="start" fill="#141414" stroke="#141414" stroke-width="0.12">SVD-Wiener</text>
<text x="475.7" y="62.6" font-size="7.75" text-anchor="start" fill="#141414" stroke="#141414" stroke-width="0.12">SL1MMER</text>
<text x="339.5" y="12" font-size="10.9" text-anchor="start" fill="#161616" stroke="#161616" stroke-width="0.22">reflectivity</text>
<text x="391.5" y="12" font-size="9.8" text-anchor="start" fill="#161616" font-style="italic" stroke="#161616" stroke-width="0.22">σ</text>
<text x="398.4" y="16.7" font-size="8.7" text-anchor="start" fill="#161616" stroke="#161616" stroke-width="0.22">s</text>
<text x="406.3" y="12" font-size="10.9" text-anchor="start" fill="#161616" stroke="#161616" stroke-width="0.22">in elevation direction</text>
<text x="374.5" y="229.5" font-size="11.45" text-anchor="start" fill="#2b2b2b" >elevation position, m</text>
<g transform="translate(289.0,116.4) rotate(-90)" fill="#2b2b2b"><text x="0.2" y="0" font-size="11.6" font-style="italic">σ</text><text x="7.4" y="5.2" font-size="8.4">s</text></g>
<text x="404.7" y="262.9" font-size="11.8" font-weight="bold" font-family="&apos;Liberation Serif&apos;, serif" fill="#222" letter-spacing="0.6">(b)</text>
</svg>
</body></html>
